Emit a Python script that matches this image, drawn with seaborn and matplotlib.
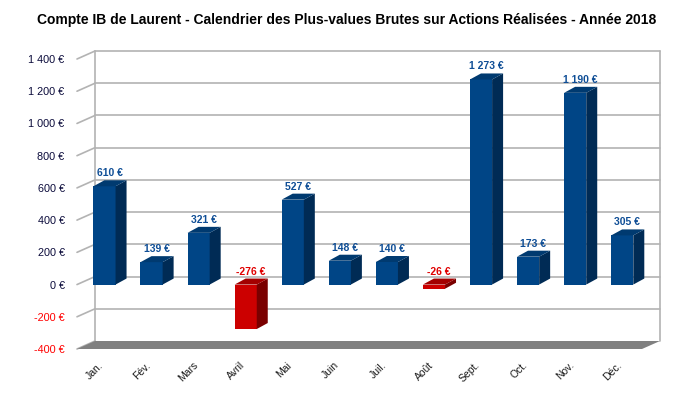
import matplotlib
matplotlib.use("Agg")
import matplotlib.pyplot as plt
import seaborn as sns
import pandas as pd
from matplotlib.patches import Polygon
from matplotlib.lines import Line2D
from matplotlib.transforms import IdentityTransform, ScaledTranslation

# ---- data ----
months = ["Jan.", "Fév.", "Mars", "Avril", "Mai", "Juin", "Juil.", "Août",
          "Sept.", "Oct.", "Nov.", "Déc."]
values = [610, 139, 321, -276, 527, 148, 140, -26, 1273, 173, 1190, 305]
yticks = [-400, -200, 0, 200, 400, 600, 800, 1000, 1200, 1400]
title = "Compte IB de Laurent - Calendrier des Plus-values Brutes sur Actions Réalisées - Année 2018"

sns.set_style("white")
plt.rcParams["font.family"] = ["Liberation Sans", "DejaVu Sans"]

BLUE_F, BLUE_S, BLUE_T = "#004586", "#002B55", "#003A70"
RED_F, RED_S, RED_T = "#CC0000", "#7A0000", "#A30000"
GRID = "#b3b3b3"

def fmt(v):
    s = f"{abs(v):,}".replace(",", " ")
    return ("-" if v < 0 else "") + s + " €"

fig = plt.figure(figsize=(6.94, 4.04), dpi=100)
W, H = 694, 404
left_px, right_px, top_px, bot_px = 77, 642, 59, 349
ax = fig.add_axes([left_px / W, (H - bot_px) / H, (right_px - left_px) / W, (bot_px - top_px) / H])

df = pd.DataFrame({"Mois": months, "Valeur": values})
colors = [BLUE_F if v >= 0 else RED_F for v in values]
sns.barplot(data=df, x="Mois", y="Valeur", hue="Mois", palette=colors,
            width=0.47, dodge=False, legend=False, ax=ax, linewidth=0,
            saturation=1, zorder=3)

xmin, xmax = -0.584, 11.42
ax.set_xlim(xmin, xmax)
ax.set_ylim(-400, 1400)
for s in ax.spines.values():
    s.set_visible(False)
ax.set_xlabel("")
ax.set_ylabel("")
ax.grid(False)
ax.patch.set_alpha(0)

# y tick labels
ax.set_yticks(yticks)
ax.set_yticklabels([fmt(v) for v in yticks], fontsize=7.8)
for lab, v in zip(ax.get_yticklabels(), yticks):
    lab.set_color("#FF0000" if v < 0 else "#0b0b3b")
ax.tick_params(axis="y", length=0, pad=9)

# x tick labels
ax.set_xticks(range(len(months)))
ax.set_xticklabels(months, fontsize=7.5, rotation=45, ha="right", va="top",
                   rotation_mode="anchor", color="#1a1a1a")
ax.tick_params(axis="x", length=0, pad=8)
shift = ScaledTranslation(-6 / 100, 0, fig.dpi_scale_trans)
for lab in ax.get_xticklabels():
    lab.set_transform(lab.get_transform() + shift)

# ---- pseudo-3D frame ----
BDX, BDY = 18, 8      # back wall offset (pixels)
DDX, DDY = 11, 6      # bar depth (pixels)

def disp(x, y, dx=0, dy=0):
    p = ax.transData.transform((x, y))
    return (p[0] + dx, p[1] + dy)

def add_line(p1, p2, color=GRID, lw=1.2, z=1):
    ln = Line2D([p1[0], p2[0]], [p1[1], p2[1]], color=color, lw=lw,
                transform=IdentityTransform(), zorder=z, clip_on=False)
    ax.add_line(ln)

def add_poly(pts, color, z=3):
    pg = Polygon(pts, closed=True, facecolor=color, edgecolor="none",
                 transform=IdentityTransform(), zorder=z, clip_on=False)
    ax.add_patch(pg)

for v in yticks:
    if v > -400:
        add_line(disp(xmin, v, BDX, BDY), disp(xmax, v, BDX, BDY))
    add_line(disp(xmin, v), disp(xmin, v, BDX, BDY))
add_line(disp(xmin, -400, BDX, BDY), disp(xmin, 1400, BDX, BDY))
add_line(disp(xmax, -400, BDX, BDY), disp(xmax, 1400, BDX, BDY))

# floor
add_poly([disp(xmin, -400), disp(xmax, -400),
          disp(xmax, -400, BDX, BDY), disp(xmin, -400, BDX, BDY)], "#808080", z=2)

# bar sides / tops
for p in ax.patches[:]:
    if not hasattr(p, "get_width") or p.get_width() <= 0:
        continue
    x0, w = p.get_x(), p.get_width()
    y0, h = p.get_y(), p.get_height()
    lo, hi = min(y0, y0 + h), max(y0, y0 + h)
    neg = (y0 + h) < 0
    side_c = RED_S if neg else BLUE_S
    top_c = RED_T if neg else BLUE_T
    add_poly([disp(x0 + w, lo), disp(x0 + w, hi), disp(x0 + w, hi, DDX, DDY),
              disp(x0 + w, lo, DDX, DDY)], side_c, z=3)
    add_poly([disp(x0, hi), disp(x0 + w, hi), disp(x0 + w, hi, DDX, DDY),
              disp(x0, hi, DDX, DDY)], top_c, z=3)

# data labels
for i, v in enumerate(values):
    ax.annotate(fmt(v), xy=(i, max(v, 0)), xytext=(5, 10), textcoords="offset pixels",
                ha="center", va="baseline", fontsize=7.5, fontweight="bold",
                color="#E00000" if v < 0 else "#0F4E96", zorder=5,
                annotation_clip=False)

fig.text(0.5, 1 - 20 / H, title, ha="center", va="center", fontsize=10,
         fontweight="bold", color="black")

fig.savefig("out.png", dpi=100)
